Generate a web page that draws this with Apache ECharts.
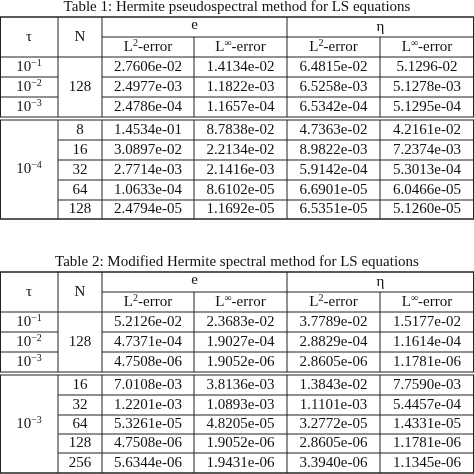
<!DOCTYPE html>
<html><head><meta charset="utf-8">
<script src="https://cdn.jsdelivr.net/npm/echarts@6/dist/echarts.min.js"></script>
<style>html,body{margin:0;background:#fff}#main{width:474px;height:474px}</style>
</head><body><div id="main"></div>
<script>
const titles = ["Table 1: Hermite pseudospectral method for LS equations",
                "Table 2: Modified Hermite spectral method for LS equations"];
const tauTop = ["−1", "−2", "−3"];
const tauBottom = ["−4", "−3"];
const nTop = ["128", "128"];
const nBottom1 = ["8", "16", "32", "64", "128"];
const nBottom2 = ["16", "32", "64", "128", "256"];
const vals1 = [
  ["2.7606e-02","1.4134e-02","6.4815e-02","5.1296-02"],
  ["2.4977e-03","1.1822e-03","6.5258e-03","5.1278e-03"],
  ["2.4786e-04","1.1657e-04","6.5342e-04","5.1295e-04"],
  ["1.4534e-01","8.7838e-02","4.7363e-02","4.2161e-02"],
  ["3.0897e-02","2.2134e-02","8.9822e-03","7.2374e-03"],
  ["2.7714e-03","2.1416e-03","5.9142e-04","5.3013e-04"],
  ["1.0633e-04","8.6102e-05","6.6901e-05","6.0466e-05"],
  ["2.4794e-05","1.1692e-05","6.5351e-05","5.1260e-05"]];
const vals2 = [
  ["5.2126e-02","2.3683e-02","3.7789e-02","1.5177e-02"],
  ["4.7371e-04","1.9027e-04","2.8829e-04","1.1614e-04"],
  ["4.7508e-06","1.9052e-06","2.8605e-06","1.1781e-06"],
  ["7.0108e-03","3.8136e-03","1.3843e-02","7.7590e-03"],
  ["1.2201e-03","1.0893e-03","1.1101e-03","5.4457e-04"],
  ["5.3261e-05","4.8205e-05","3.2772e-05","1.4331e-05"],
  ["4.7508e-06","1.9052e-06","2.8605e-06","1.1781e-06"],
  ["5.6344e-06","1.9431e-06","3.3940e-06","1.1345e-06"]];

const FONT = "'Liberation Serif','DejaVu Serif',serif";
const cols = [0, 58, 102, 194, 287, 380, 474];
const g = [];
function line(x1, y1, x2, y2, w) {
  g.push({type:'line', shape:{x1, y1, x2, y2}, style:{stroke:'#222', lineWidth:w||1}});
}
function text(x, y, t, size) {
  g.push({type:'text', x, y, style:{text:t, fontFamily:FONT, fontSize:size||15, fill:'#111',
    align:'center', verticalAlign:'middle',
    rich:{s:{fontFamily:FONT, fontSize:10, verticalAlign:'top', padding:[0,0,8,0], fill:'#111'}}}});
}
const mid = (a, b) => (a + b) / 2;

function table(title, tTitle, top, h1, h2, rowsTop, dbl, rowsBot, nBot, vals, tauLow) {
  text(237, tTitle, title, 15);
  line(0, top, 474, top, 1.5);
  line(cols[2], h1, 474, h1);
  line(0, h2, 474, h2);
  // header
  text(mid(cols[0], cols[1]), mid(top, h2), 'τ');
  text(mid(cols[1], cols[2]), mid(top, h2), 'N');
  text(mid(cols[2], cols[4]), mid(top, h1) - 2, 'e');
  text(mid(cols[4], cols[6]), mid(top, h1), 'η');
  ['L{s|2}-error', 'L{s|∞}-error', 'L{s|2}-error', 'L{s|∞}-error'].forEach((t, i) =>
    text(mid(cols[i + 2], cols[i + 3]), mid(h1, h2), t));
  // upper block
  const yT = [h2].concat(rowsTop);
  for (let r = 0; r < 3; r++) {
    text(mid(cols[0], cols[1]), mid(yT[r], yT[r + 1]), '10{s|' + tauTop[r] + '}');
    vals[r].forEach((v, c) => text(mid(cols[c + 2], cols[c + 3]), mid(yT[r], yT[r + 1]), v));
    if (r < 2) { line(0, yT[r + 1], cols[1], yT[r + 1]); line(cols[2], yT[r + 1], 474, yT[r + 1]); }
  }
  text(mid(cols[1], cols[2]), mid(h2, rowsTop[2]), nTop[0]);
  line(0, dbl, 474, dbl); line(0, dbl + 3, 474, dbl + 3);
  // lower block
  const yB = [dbl + 3].concat(rowsBot);
  for (let r = 0; r < 5; r++) {
    text(mid(cols[1], cols[2]), mid(yB[r], yB[r + 1]), nBot[r]);
    vals[r + 3].forEach((v, c) => text(mid(cols[c + 2], cols[c + 3]), mid(yB[r], yB[r + 1]), v));
    line(cols[1], yB[r + 1], 474, yB[r + 1], r === 4 ? 1.5 : 1);
  }
  text(mid(cols[0], cols[1]), mid(dbl + 3, rowsBot[4]), '10{s|' + tauLow + '}');
  const bottom = rowsBot[4];
  [0, 1, 2, 4, 6].forEach(i => {
    const x = Math.min(Math.max(cols[i], 0.5), 473.5);
    line(x, top, x, dbl); line(x, dbl + 3, x, bottom);
  });
  [3, 5].forEach(i => { line(cols[i], h1, cols[i], dbl); line(cols[i], dbl + 3, cols[i], bottom); });
  line(0, bottom, cols[1], bottom, 1.5);
}

table(titles[0], 7, 17, 37, 57, [77, 97, 117], 117, [140, 160, 180, 200, 219], nBottom1, vals1, tauBottom[0]);
table(titles[1], 262, 272, 292, 312, [332, 352, 372], 372, [395, 415, 434, 453, 473], nBottom2, vals2, tauBottom[1]);

const chart = echarts.init(document.getElementById('main'));
chart.setOption({ graphic: g });
</script></body></html>
